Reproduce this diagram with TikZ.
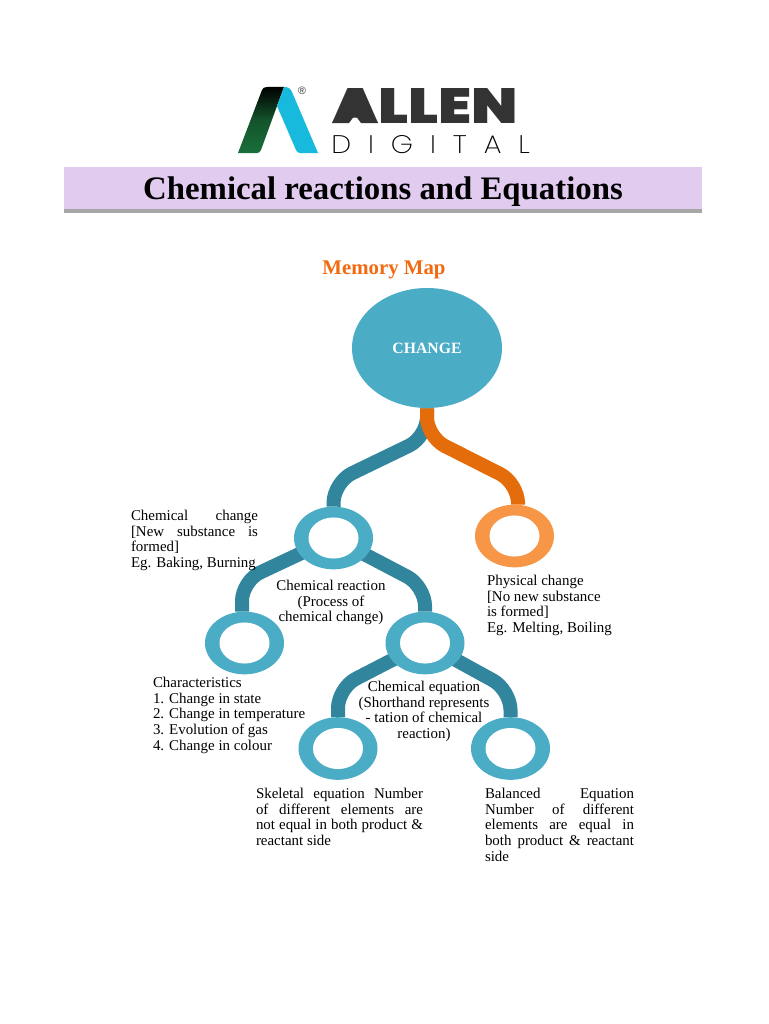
\documentclass[tikz,border=0pt]{standalone}
\usepackage{fontspec}
\setmainfont{Liberation Serif}
\newfontfamily\logobold{Poppins Black}
\newfontfamily\logolight[LetterSpace=60]{Poppins ExtraLight}
\newfontfamily\marksans{Liberation Sans}
\usetikzlibrary{shapes.geometric,backgrounds}
\definecolor{ringblue}{HTML}{4BACC6}
\definecolor{linkteal}{HTML}{31859C}
\definecolor{ringorange}{HTML}{F79646}
\definecolor{linkorange}{HTML}{E46C0A}
\definecolor{barlilac}{HTML}{E1CCF0}
\definecolor{bargray}{HTML}{A6A6A6}
\definecolor{maporange}{HTML}{F26A0F}
\definecolor{logocyan}{HTML}{17B9DC}
\definecolor{logogreen}{HTML}{1A6F3A}
\definecolor{logodark}{HTML}{333333}
\newcommand{\jline}[2]{\makebox[#1][s]{#2}}
\tikzset{
  x=0.75pt,y=-0.75pt,
  ringnode/.style={ellipse,fill=#1,minimum width=59.25pt,minimum height=47pt,inner sep=0pt,outer sep=0pt,
    path picture={\fill[white] (path picture bounding box.center) ellipse (18.75pt and 15.4pt);}},
  linkline/.style={line width=10.5pt,rounded corners=15pt,line cap=butt,draw=#1},
  note/.style={inner sep=0pt,outer sep=0pt,anchor=north west,align=left,font=\fontsize{11.2}{11.75}\selectfont},
  notec/.style={inner sep=0pt,outer sep=0pt,anchor=north,align=center,font=\fontsize{11.2}{11.75}\selectfont},
}
\begin{document}
\begin{tikzpicture}
\useasboundingbox (0,0) rectangle (768,1024);
\begin{scope}[on background layer]
\fill[white] (0,0) rectangle (768,1024);
\end{scope}
% logo
\shade[top color=black,bottom color=logogreen,middle color=logogreen!75!black]
  (238,153) -- (262,90) .. controls (263,88) and (264,87) .. (267,87) -- (284,87) -- (277,106) -- (261,150) .. controls (260,152) and (259,153) .. (257,153) -- cycle;
\fill[logocyan] (284,87) .. controls (288,87) and (290,88) .. (292,92) -- (318,153) -- (300,153) .. controls (298,153) and (297,152) .. (296,150) -- (277,106) -- cycle;
\node[inner sep=0pt,font=\marksans\fontsize{8}{8}\selectfont,text=logodark] (regmark) at (302,91) {®};
\node[inner sep=0pt,anchor=north west,text=logodark] (allen) at (332,88) {\resizebox{139.5pt}{26.25pt}{\logobold ALLEN}};
\fill[logodark] (355,88) -- (378,123) -- (361,123) -- (355,115) -- (349,123) -- (332,123) -- cycle;
\node[inner sep=0pt,anchor=north west,text=black] (digital) at (331,135) {\resizebox{149pt}{13.5pt}{\logolight DIGITAL}};
% title bar
\fill[bargray] (64,205) rectangle (702,213);
\fill[barlilac] (64,167) rectangle (702,209);
\node[font=\fontsize{24.6}{27}\selectfont\bfseries,inner sep=0pt,anchor=base] (title) at (383,199.5) {Chemical reactions and Equations};
\node[font=\fontsize{15.6}{18}\selectfont\bfseries,text=maporange,inner sep=0pt,anchor=base] (map) at (384,274) {Memory Map};
% nodes
\node[ellipse,fill=ringblue,minimum width=112.5pt,minimum height=90pt,inner sep=0pt,text=white,font=\fontsize{11.8}{13}\selectfont\bfseries] (change) at (427,348) {CHANGE};
\node[ringnode=ringblue] (chem) at (333.5,538) {};
\node[ringnode=ringorange] (phys) at (514.5,536) {};
\node[ringnode=ringblue] (charac) at (244.5,643) {};
\node[ringnode=ringblue] (equ) at (425,643) {};
\node[ringnode=ringblue] (skel) at (338,748.5) {};
\node[ringnode=ringblue] (bal) at (510.5,748.5) {};
% elbows
\coordinate (e0) at (427,437);
\coordinate (e1) at (334,482);
\coordinate (e2) at (518,483);
\coordinate (e3) at (242,581);
\coordinate (e4) at (425,586);
\coordinate (e5) at (338,688);
\coordinate (e6) at (510.5,690);
\begin{scope}[on background layer]
\draw[linkline=linkteal] (change.south) -- (e0) -- (e1) -- (chem.north);
\draw[linkline=linkorange] (change.south) -- (e0) -- (e2) -- (e2 |- phys.north);
\draw[linkline=linkteal] (chem.center) -- (e3) -- (e3 |- charac.north);
\draw[linkline=linkteal] (chem.center) -- (e4) -- (e4 |- equ.north);
\draw[linkline=linkteal] (equ.center) -- (e5) -- (skel.north);
\draw[linkline=linkteal] (equ.center) -- (e6) -- (bal.north);
\end{scope}
% texts
\node[note] (t1) at (131,510) {\jline{95.25pt}{Chemical change}\\\jline{95.25pt}{[New substance is}\\formed]\\Eg. Baking, Burning};
\node[note] (t2) at (487,575) {Physical change\\{}[No new substance\\is formed]\\Eg. Melting, Boiling};
\node[notec] (t3) at (331,580) {Chemical reaction\\(Process of\\chemical change)};
\node[note] (t4) at (153,677) {Characteristics\\1. Change in state\\2. Change in temperature\\3. Evolution of gas\\4. Change in colour};
\node[notec] (t5) at (424,681) {Chemical equation\\(Shorthand represents\\- tation of chemical\\reaction)};
\node[note] (t6) at (256,788) {\jline{125.25pt}{Skeletal equation Number}\\\jline{125.25pt}{of different elements are}\\\jline{125.25pt}{not equal in both product \&}\\reactant side};
\node[note] (t7) at (485,788) {\jline{111.75pt}{Balanced Equation}\\\jline{111.75pt}{Number of different}\\\jline{111.75pt}{elements are equal in}\\\jline{111.75pt}{both product \& reactant}\\side};
\end{tikzpicture}
\end{document}
